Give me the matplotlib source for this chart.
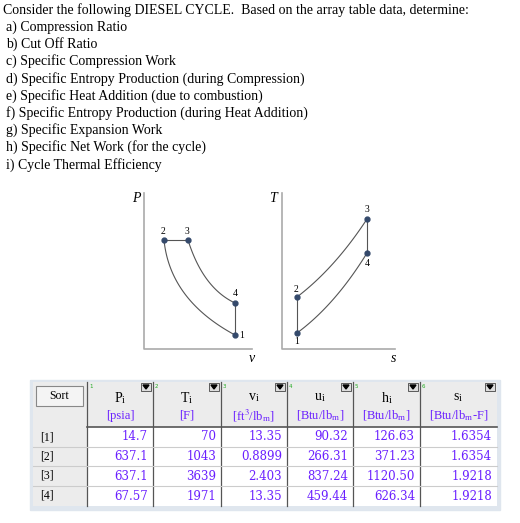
import matplotlib
matplotlib.use("Agg")
import matplotlib.pyplot as plt
import numpy as np
from matplotlib.patches import Rectangle

title = "Consider the following DIESEL CYCLE.  Based on the array table data, determine:"
items = ["a) Compression Ratio", "b) Cut Off Ratio", "c) Specific Compression Work",
         "d) Specific Entropy Production (during Compression)",
         "e) Specific Heat Addition (due to combustion)",
         "f) Specific Entropy Production (during Heat Addition)",
         "g) Specific Expansion Work", "h) Specific Net Work (for the cycle)",
         "i) Cycle Thermal Efficiency"]

col_heads = ["P$_\\mathregular{i}$", "T$_\\mathregular{i}$", "v$_\\mathregular{i}$",
             "u$_\\mathregular{i}$", "h$_\\mathregular{i}$", "s$_\\mathregular{i}$"]
col_units = ["[psia]", "[F]", "[ft$^3$/lb$_\\mathregular{m}$]", "[Btu/lb$_\\mathregular{m}$]",
             "[Btu/lb$_\\mathregular{m}$]", "[Btu/lb$_\\mathregular{m}$-F]"]
row_labels = ["[1]", "[2]", "[3]", "[4]"]
P = ["14.7", "637.1", "637.1", "67.57"]
T = ["70", "1043", "3639", "1971"]
v = ["13.35", "0.8899", "2.403", "13.35"]
u = ["90.32", "266.31", "837.24", "459.44"]
h = ["126.63", "371.23", "1120.50", "626.34"]
s = ["1.6354", "1.6354", "1.9218", "1.9218"]

# schematic diagram state points (pixel positions in the figure)
pv_pts = {"1": (235, 335), "2": (164, 240), "3": (188, 240), "4": (235, 303)}
ts_pts = {"1": (297, 333), "2": (297, 297), "3": (367, 219), "4": (367, 253)}

plt.rcParams["mathtext.fontset"] = "stix"
fig = plt.figure(figsize=(5.20, 5.23), dpi=100)
ax = fig.add_axes([0, 0, 1, 1])
ax.set_xlim(0, 520); ax.set_ylim(523, 0); ax.axis("off")
F = "Liberation Serif"

ax.text(3, 10, title, fontsize=10, family=F, va="center")
for i, t in enumerate(items):
    ax.text(6, 27 + i * 17.2, t, fontsize=10, family=F, va="center")

def bez(p0, c, p1, n=60):
    t = np.linspace(0, 1, n)[:, None]
    p0, c, p1 = map(np.array, (p0, c, p1))
    return (1 - t) ** 2 * p0 + 2 * (1 - t) * t * c + t ** 2 * p1

lc = "#555555"; dc = "#34496b"
# P-v
ax.plot([144, 144, 252], [193, 349, 349], color="#aaaaaa", lw=1.2)
ax.text(132, 198, "P", fontsize=10, family=F, style="italic", va="center")
ax.text(249, 358, "v", fontsize=10, family=F, style="italic", va="center")
c12 = bez(pv_pts["2"], (170, 300), pv_pts["1"])
c34 = bez(pv_pts["3"], (203, 288), pv_pts["4"])
for c in (c12, c34):
    ax.plot(c[:, 0], c[:, 1], color=lc, lw=0.8)
ax.plot([164, 188], [240, 240], color=lc, lw=0.8)
ax.plot([235, 235], [303, 335], color=lc, lw=0.8)
for k, (x, y) in pv_pts.items():
    ax.plot(x, y, "o", ms=3.5, color=dc)
for k, (x, y) in {"2": (163, 232), "3": (187, 232), "4": (235, 294), "1": (242, 335)}.items():
    ax.text(x, y, k, fontsize=7, family=F, ha="center", va="center")
# T-s
ax.plot([282, 282, 395], [193, 349, 349], color="#aaaaaa", lw=1.2)
ax.text(269, 198, "T", fontsize=10, family=F, style="italic", va="center")
ax.text(391, 358, "s", fontsize=10, family=F, style="italic", va="center")
c23 = bez(ts_pts["2"], (335, 268), ts_pts["3"])
c14 = bez(ts_pts["1"], (335, 305), ts_pts["4"])
for c in (c23, c14):
    ax.plot(c[:, 0], c[:, 1], color=lc, lw=0.8)
ax.plot([297, 297], [297, 333], color=lc, lw=0.8)
ax.plot([367, 367], [219, 253], color=lc, lw=0.8)
for k, (x, y) in ts_pts.items():
    ax.plot(x, y, "o", ms=3.5, color=dc)
for k, (x, y) in {"1": (297, 342), "2": (296, 289), "3": (367, 210), "4": (367, 263)}.items():
    ax.text(x, y, k, fontsize=7, family=F, ha="center", va="center")

# table
ax.add_patch(Rectangle((30, 380), 470, 130, color="#dfe6ee", zorder=0))
xs = [33, 87, 153, 221, 287, 353, 420, 497]
ys = [382, 427, 447, 466, 486, 506]
purple = "#6a1fff"
ax.add_patch(Rectangle((xs[0], ys[0]), xs[-1] - xs[0], ys[-1] - ys[0], fc="white", ec="none", zorder=1))
ax.add_patch(Rectangle((xs[0], ys[0]), xs[-1] - xs[0], ys[1] - ys[0], fc="#ececec", ec="none", zorder=1))
ax.add_patch(Rectangle((xs[0], ys[0]), xs[1] - xs[0], ys[-1] - ys[0], fc="#ececec", ec="none", zorder=1))
ax.add_patch(Rectangle((36, 386), 47, 20, fc="#f4f4f4", ec="#888888", lw=0.8, zorder=2))
ax.text(59.5, 396, "Sort", fontsize=8.5, family=F, ha="center", va="center", zorder=3)
for x in xs[1:-1]:
    ax.plot([x, x], [ys[0], ys[-1]], color="#555555", lw=0.9, zorder=2)
ax.plot([xs[1], xs[-1]], [ys[1], ys[1]], color="#555555", lw=1.2, zorder=2)
for y in ys[2:-1]:
    ax.plot([xs[0], xs[-1]], [y, y], color="#cccccc", lw=0.8, zorder=2)
for j in range(6):
    x0, x1 = xs[j + 1], xs[j + 2]
    xm = (x0 + x1) / 2
    ax.text(x0 + 2, ys[0] + 4, str(j + 1), fontsize=4, color="#22aa22", va="center", zorder=3)
    ax.add_patch(Rectangle((x1 - 12, ys[0] + 1), 10, 8, fc="#dddddd", ec="#444444", lw=0.6, zorder=3))
    ax.fill([x1 - 10, x1 - 4, x1 - 7], [ys[0] + 3, ys[0] + 3, ys[0] + 7], color="black", zorder=4)
    ax.text(xm, 398, col_heads[j], fontsize=10, family=F, ha="center", va="center", zorder=3)
    ax.text(xm, 416, col_units[j], fontsize=9, family=F, color=purple, ha="center", va="center", zorder=3)
cols = [P, T, v, u, h, s]
for i in range(4):
    yc = (ys[i + 1] + ys[i + 2]) / 2
    ax.text(40, yc, row_labels[i], fontsize=8.5, family=F, va="center", zorder=3)
    for j in range(6):
        ax.text(xs[j + 2] - 5, yc, cols[j][i], fontsize=8.5, family="DejaVu Serif",
                color=purple, ha="right", va="center", zorder=3)

fig.savefig("out.png", dpi=100)
